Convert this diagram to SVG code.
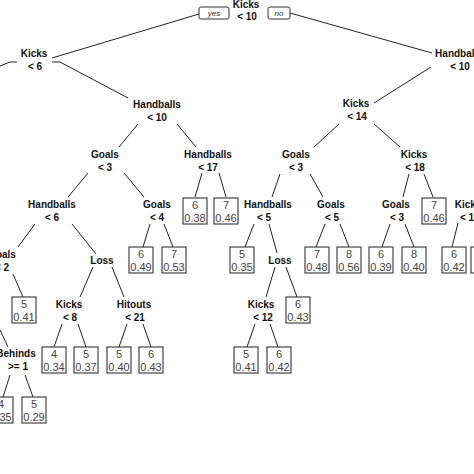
<svg xmlns="http://www.w3.org/2000/svg" width="474" height="474" viewBox="0 0 474 474">
<style>
.bg{fill:#fff}
.lbl{font-family:"Liberation Sans",Arial,sans-serif;font-size:10px;font-weight:bold;fill:#111;text-anchor:middle}
.leaf rect{fill:#fff;stroke:#333;stroke-width:1.1}
.leaf text{font-family:"Liberation Sans",Arial,sans-serif;font-size:11px;fill:#444;text-anchor:middle}
.yn rect{fill:#fff;stroke:#333;stroke-width:1}
.yn text{font-family:"Liberation Sans",Arial,sans-serif;font-size:8px;font-style:italic;fill:#333;text-anchor:middle}
#connectors line,#connectors polyline{stroke:#222;stroke-width:1;fill:none}
</style>
<rect class="bg" x="0" y="0" width="474" height="474"/>
<g id="connectors">
<line x1="199" y1="14" x2="52" y2="58"/>
<line x1="290" y1="13" x2="432" y2="53"/>
<polyline points="0,66 10,62 17,62"/>
<polyline points="52,62 60,62 128,98"/>
<line x1="138" y1="124" x2="119" y2="147"/>
<line x1="177" y1="124" x2="196" y2="147"/>
<line x1="88" y1="173" x2="68" y2="197"/>
<line x1="124" y1="173" x2="144" y2="197"/>
<line x1="202" y1="173" x2="195" y2="197"/>
<line x1="219" y1="173" x2="226" y2="197"/>
<line x1="35" y1="224" x2="18" y2="247"/>
<line x1="72" y1="224" x2="96" y2="254"/>
<line x1="150" y1="224" x2="143" y2="247"/>
<line x1="164" y1="224" x2="173" y2="247"/>
<line x1="13" y1="274" x2="23" y2="297"/>
<line x1="0" y1="330" x2="8" y2="347"/>
<line x1="93" y1="267" x2="80" y2="297"/>
<line x1="112" y1="267" x2="124" y2="297"/>
<line x1="62" y1="324" x2="54" y2="347"/>
<line x1="78" y1="324" x2="86" y2="347"/>
<line x1="127" y1="324" x2="119" y2="347"/>
<line x1="143" y1="324" x2="151" y2="347"/>
<line x1="10" y1="375" x2="3" y2="397"/>
<line x1="25" y1="375" x2="33" y2="397"/>
<line x1="431" y1="67" x2="374" y2="103"/>
<line x1="339" y1="124" x2="314" y2="147"/>
<line x1="374" y1="124" x2="400" y2="147"/>
<line x1="280" y1="174" x2="272" y2="197"/>
<line x1="310" y1="174" x2="323" y2="197"/>
<line x1="409" y1="174" x2="403" y2="197"/>
<line x1="424" y1="174" x2="433" y2="197"/>
<line x1="254" y1="224" x2="245" y2="247"/>
<line x1="269" y1="224" x2="277" y2="253"/>
<line x1="325" y1="224" x2="316" y2="247"/>
<line x1="340" y1="224" x2="349" y2="247"/>
<line x1="390" y1="224" x2="382" y2="247"/>
<line x1="405" y1="224" x2="414" y2="247"/>
<line x1="458" y1="223" x2="452" y2="247"/>
<line x1="275" y1="267" x2="266" y2="297"/>
<line x1="286" y1="267" x2="297" y2="297"/>
<line x1="255" y1="324" x2="247" y2="347"/>
<line x1="270" y1="324" x2="278" y2="347"/>
</g>
<g id="yes" class="yn"><rect x="199" y="7" width="30" height="12" rx="2"/><text x="214" y="16">yes</text></g>
<g id="no" class="yn"><rect x="268" y="7" width="22" height="12" rx="2"/><text x="279" y="16">no</text></g>
<g id="n-root"><text class="lbl" x="246" y="7.5">Kicks</text><text class="lbl" x="247" y="20">&lt; 10</text></g>
<g id="n-k6"><text class="lbl" x="34" y="56.5">Kicks</text><text class="lbl" x="35" y="69.5">&lt; 6</text></g>
<g id="n-h10"><text class="lbl" x="157" y="107.5">Handballs</text><text class="lbl" x="157" y="120.5">&lt; 10</text></g>
<g id="n-g3l"><text class="lbl" x="105" y="157.5">Goals</text><text class="lbl" x="105" y="170.5">&lt; 3</text></g>
<g id="n-h17"><text class="lbl" x="208" y="157.5">Handballs</text><text class="lbl" x="208" y="170.5">&lt; 17</text></g>
<g id="n-h6"><text class="lbl" x="52" y="207.5">Handballs</text><text class="lbl" x="52" y="220.5">&lt; 6</text></g>
<g id="n-g4"><text class="lbl" x="157" y="207.5">Goals</text><text class="lbl" x="157" y="220.5">&lt; 4</text></g>
<g id="n-g2"><text class="lbl" x="2" y="257.5">Goals</text><text class="lbl" x="2" y="270.5">&lt; 2</text></g>
<g id="n-lossl"><text class="lbl" x="102" y="263.5">Loss</text></g>
<g id="n-k8"><text class="lbl" x="69" y="307.5">Kicks</text><text class="lbl" x="70" y="320.5">&lt; 8</text></g>
<g id="n-hit"><text class="lbl" x="134" y="307.5">Hitouts</text><text class="lbl" x="135" y="320.5">&lt; 21</text></g>
<g id="n-beh"><text class="lbl" x="16" y="356.5">Behinds</text><text class="lbl" x="18" y="369.5">&gt;= 1</text></g>
<g id="n-hr"><text class="lbl" x="459" y="56.5">Handballs</text><text class="lbl" x="460" y="69.5">&lt; 10</text></g>
<g id="n-k14"><text class="lbl" x="356" y="106.5">Kicks</text><text class="lbl" x="357" y="120">&lt; 14</text></g>
<g id="n-g3r"><text class="lbl" x="296" y="157.5">Goals</text><text class="lbl" x="296" y="170.5">&lt; 3</text></g>
<g id="n-k18"><text class="lbl" x="414" y="157.5">Kicks</text><text class="lbl" x="415" y="170.5">&lt; 18</text></g>
<g id="n-h5"><text class="lbl" x="268" y="207.5">Handballs</text><text class="lbl" x="264" y="220.5">&lt; 5</text></g>
<g id="n-g5"><text class="lbl" x="331" y="207.5">Goals</text><text class="lbl" x="332" y="220.5">&lt; 5</text></g>
<g id="n-g3r2"><text class="lbl" x="396" y="207.5">Goals</text><text class="lbl" x="397" y="220.5">&lt; 3</text></g>
<g id="n-kpart"><text class="lbl" x="468" y="207.5">Kicks</text><text class="lbl" x="460" y="220.5" style="text-anchor:start">&lt; 1</text></g>
<g id="n-lossr"><text class="lbl" x="280" y="263.5">Loss</text></g>
<g id="n-k12"><text class="lbl" x="261" y="307.5">Kicks</text><text class="lbl" x="263" y="320.5">&lt; 12</text></g>
<g id="leaf-l1" class="leaf"><rect x="183" y="198" width="24" height="26"/><text x="195" y="209">6</text><text x="195" y="221.5">0.38</text></g>
<g id="leaf-l2" class="leaf"><rect x="214" y="198" width="24" height="26"/><text x="226" y="209">7</text><text x="226" y="221.5">0.46</text></g>
<g id="leaf-l3" class="leaf"><rect x="129" y="247" width="24" height="26"/><text x="141" y="258">6</text><text x="141" y="270.5">0.49</text></g>
<g id="leaf-l4" class="leaf"><rect x="162" y="247" width="24" height="26"/><text x="174" y="258">7</text><text x="174" y="270.5">0.53</text></g>
<g id="leaf-l5" class="leaf"><rect x="12" y="297" width="24" height="26"/><text x="24" y="308">5</text><text x="24" y="320.5">0.41</text></g>
<g id="leaf-l6" class="leaf"><rect x="42" y="347" width="24" height="26"/><text x="54" y="358">4</text><text x="54" y="370.5">0.34</text></g>
<g id="leaf-l7" class="leaf"><rect x="74" y="347" width="24" height="26"/><text x="86" y="358">5</text><text x="86" y="370.5">0.37</text></g>
<g id="leaf-l8" class="leaf"><rect x="107" y="347" width="24" height="26"/><text x="119" y="358">5</text><text x="119" y="370.5">0.40</text></g>
<g id="leaf-l9" class="leaf"><rect x="139" y="347" width="24" height="26"/><text x="151" y="358">6</text><text x="151" y="370.5">0.43</text></g>
<g id="leaf-l10" class="leaf"><rect x="-11" y="397" width="24" height="26"/><text x="1" y="408">4</text><text x="1" y="420.5">0.35</text></g>
<g id="leaf-l11" class="leaf"><rect x="22" y="397" width="24" height="26"/><text x="34" y="408">5</text><text x="34" y="420.5">0.29</text></g>
<g id="leaf-r1" class="leaf"><rect x="422" y="198" width="24" height="26"/><text x="434" y="209">7</text><text x="434" y="221.5">0.46</text></g>
<g id="leaf-r2" class="leaf"><rect x="230" y="247" width="24" height="26"/><text x="242" y="258">5</text><text x="242" y="270.5">0.35</text></g>
<g id="leaf-r3" class="leaf"><rect x="305" y="247" width="24" height="26"/><text x="317" y="258">7</text><text x="317" y="270.5">0.48</text></g>
<g id="leaf-r4" class="leaf"><rect x="337" y="247" width="24" height="26"/><text x="349" y="258">8</text><text x="349" y="270.5">0.56</text></g>
<g id="leaf-r5" class="leaf"><rect x="369" y="247" width="24" height="26"/><text x="381" y="258">6</text><text x="381" y="270.5">0.39</text></g>
<g id="leaf-r6" class="leaf"><rect x="402" y="247" width="24" height="26"/><text x="414" y="258">8</text><text x="414" y="270.5">0.40</text></g>
<g id="leaf-r7" class="leaf"><rect x="442" y="247" width="24" height="26"/><text x="454" y="258">6</text><text x="454" y="270.5">0.42</text></g>
<g id="leaf-r8" class="leaf"><rect x="471" y="247" width="24" height="26"/></g>
<g id="leaf-r9" class="leaf"><rect x="286" y="297" width="24" height="26"/><text x="298" y="308">6</text><text x="298" y="320.5">0.43</text></g>
<g id="leaf-r10" class="leaf"><rect x="234" y="347" width="24" height="26"/><text x="246" y="358">5</text><text x="246" y="370.5">0.41</text></g>
<g id="leaf-r11" class="leaf"><rect x="267" y="347" width="24" height="26"/><text x="279" y="358">6</text><text x="279" y="370.5">0.42</text></g>
</svg>
